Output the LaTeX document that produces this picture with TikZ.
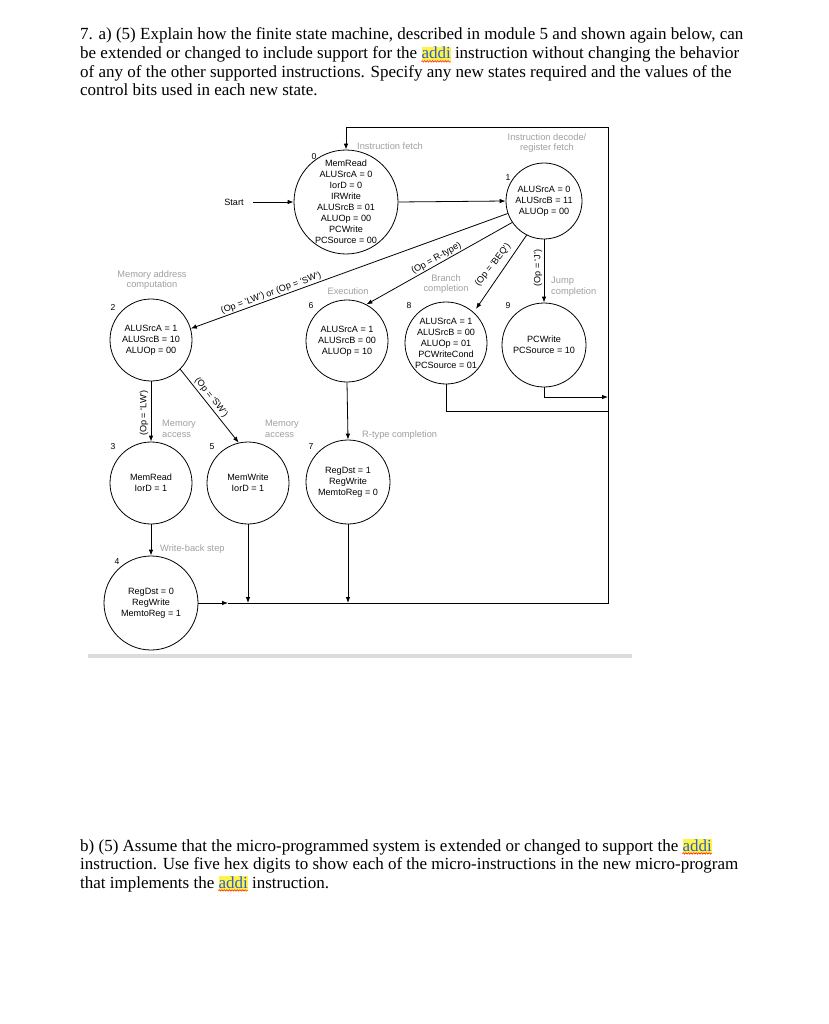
\documentclass[tikz,border=0pt]{standalone}
\usepackage{fontspec}
\setmainfont{Liberation Serif}
\newfontfamily\diagf{Liberation Sans}
\usetikzlibrary{arrows.meta,decorations.pathmorphing}
\definecolor{hl}{HTML}{FFF34A}
\definecolor{lnk}{HTML}{2D5FC8}
\definecolor{lblgray}{HTML}{A0A0A0}
\definecolor{sepgray}{HTML}{DCDCDC}
\newlength\addilen
\newcommand\addiw{\settowidth\addilen{addi}{\setlength\fboxsep{0pt}\colorbox{hl}{\rule[-2.5pt]{0pt}{14pt}\textcolor{lnk}{addi}}}\llap{\tikz[baseline=0pt,x=1pt,y=1pt]\draw[red,line width=0.45pt,decorate,decoration={snake,amplitude=0.8pt,segment length=2.6pt}] (0,-2.4) -- (\the\addilen,-2.4);}}
\begin{document}
\begin{tikzpicture}[x=1pt,y=-1pt,
  st/.style={circle,draw,line width=0.8pt,inner sep=0pt,align=center,font=\diagf\fontsize{9.1}{11}\selectfont},
  num/.style={font=\diagf\fontsize{8.6}{10}\selectfont,inner sep=0pt},
  glbl/.style={text=lblgray,font=\diagf\fontsize{9.3}{10.8}\selectfont,inner sep=0pt,align=center},
  elbl/.style={font=\diagf\fontsize{9.1}{10}\selectfont,inner sep=1.2pt},
  wire/.style={line width=0.8pt},
  arr/.style={line width=0.8pt,-{Latex[length=6pt,width=4.5pt]}},
  para/.style={anchor=base west,inner sep=0pt,font=\fontsize{17}{20}\selectfont}]
\useasboundingbox (0,0) rectangle (828,1024);
\fill[white] (0,0) rectangle (828,1024);

% question text
\node[para] (q1) at (80,40) {7. a) (5) Explain how the finite state machine, described in module 5 and shown again below, can};
\node[para] (q2) at (80,59) {be extended or changed to include support for the \addiw{} instruction without changing the behavior};
\node[para] (q3) at (80,77.5) {of any of the other supported instructions. Specify any new states required and the values of the};
\node[para] (q4) at (80,96) {control bits used in each new state.};
\node[para] (b1) at (80,851) {b) (5) Assume that the micro-programmed system is extended or changed to support the \addiw};
\node[para] (b2) at (80,869.5) {instruction. Use five hex digits to show each of the micro-instructions in the new micro-program};
\node[para] (b3) at (80,888) {that implements the \addiw{} instruction.};

% separator
\fill[sepgray] (88,654) rectangle (632,658);

% states
\node[st,minimum size=94pt] (S0) at (346,202) {MemRead\\ALUSrcA = 0\\IorD = 0\\IRWrite\\ALUSrcB = 01\\ALUOp = 00\\PCWrite\\PCSource = 00};
\node[st,minimum size=76pt] (S1) at (544,201) {ALUSrcA = 0\\ALUSrcB = 11\\ALUOp = 00};
\node[st,minimum size=82pt] (S2) at (151,340) {ALUSrcA = 1\\ALUSrcB = 10\\ALUOp = 00};
\node[st,minimum size=82pt] (S6) at (347,341) {ALUSrcA = 1\\ALUSrcB = 00\\ALUOp = 10};
\node[st,minimum size=82pt] (S8) at (446,343) {ALUSrcA = 1\\ALUSrcB = 00\\ALUOp = 01\\PCWriteCond\\PCSource = 01};
\node[st,minimum size=84pt] (S9) at (544,345) {PCWrite\\PCSource = 10};
\node[st,minimum size=82pt] (S3) at (151,483) {MemRead\\IorD = 1};
\node[st,minimum size=82pt] (S5) at (248,483) {MemWrite\\IorD = 1};
\node[st,minimum size=84pt] (S7) at (348,482) {RegDst = 1\\RegWrite\\MemtoReg = 0};
\node[st,minimum size=94pt] (S4) at (151,603) {RegDst = 0\\RegWrite\\MemtoReg = 1};

% state numbers
\node[num] (n0) at (314,157) {0};
\node[num] (n1) at (508,178) {1};
\node[num] (n2) at (113,307) {2};
\node[num] (n6) at (311,306) {6};
\node[num] (n8) at (409,306) {8};
\node[num] (n9) at (508,306) {9};
\node[num] (n3) at (113,447) {3};
\node[num] (n5) at (212,447) {5};
\node[num] (n7) at (311,447) {7};
\node[num] (n4) at (117,562) {4};

% gray step labels
\node[glbl,anchor=west] (lf) at (357,146) {Instruction fetch};
\node[glbl] (ld) at (547,143) {Instruction decode/\\register fetch};
\node[glbl] (lm) at (152,280) {Memory address\\computation};
\node[glbl] (le) at (348,291) {Execution};
\node[glbl] (lb) at (446,284) {Branch\\completion};
\node[glbl,anchor=west,align=left] (lj) at (551,287) {Jump\\completion};
\node[glbl,anchor=west,align=left] (lma1) at (162,429) {Memory\\access};
\node[glbl,anchor=west,align=left] (lma2) at (265,429) {Memory\\access};
\node[glbl,anchor=west] (lr) at (362,435) {R-type completion};
\node[glbl,anchor=west] (lw) at (160,549) {Write-back step};

% start
\node[elbl,inner sep=0pt] (start) at (234,202) {Start};
\draw[arr] ([xshift=9pt]start.east) -- (S0.west);

% transitions
\draw[arr] (S0.east) -- (S1.west);
\draw[arr] (S1.199) -- node[elbl,sloped,above,pos=0.74] (e1) {(Op = ‘LW’) or (Op = ‘SW’)} (S2.16);
\draw[arr] (S1.214) -- node[elbl,sloped,above,pos=0.5] (e2) {(Op = R-type)} (S6.62);
\draw[arr,shorten >=4pt] (S1.243) -- (S8.48);
\draw[arr] (S1.south) -- (S9.north);
\draw[arr] (S2.south) -- (S3.north);
\draw[arr] (S2.-45) -- node[elbl,sloped,above,pos=0.44,inner sep=2pt] (e6) {(Op = ‘SW’)} (S5.103);
\draw[arr] (S6.south) -- (S7.north);
\draw[arr] (S3.south) -- (S4.north);

% standalone edge labels
\node[elbl,inner sep=0pt,rotate=52] (e3) at (493,265) {(Op = ‘BEQ’)};
\node[elbl,inner sep=0pt,rotate=90] (e4) at (538,268) {(Op = ‘J’)};
\node[elbl,inner sep=0pt,rotate=90] (e5) at (144,413) {(Op = ‘LW’)};

% return paths
\coordinate (TL) at (346,127);
\coordinate (TR) at (608,127);
\coordinate (BR) at (608,603);
\coordinate (B1) at (228,603);
\coordinate (M8) at (608,411);
\coordinate (M9) at (608,397);
\draw[arr] (S4.east) -- (B1);
\draw[wire] (B1) -- (BR) -- (TR) -- (TL);
\draw[arr] (TL) -- (S0.north);
\draw[arr] (S5.south) -- (S5.south |- BR);
\draw[arr] (S7.south) -- (S7.south |- BR);
\draw[wire] (S8.south) |- (M8);
\draw[arr] (S9.south) |- (M9);
\end{tikzpicture}
\end{document}
